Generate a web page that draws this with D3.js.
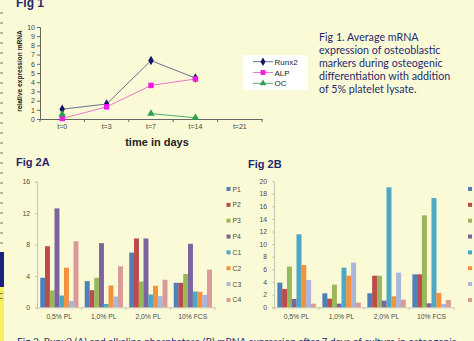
<!DOCTYPE html>
<html><head><meta charset="utf-8">
<script src="https://cdn.jsdelivr.net/npm/d3@7"></script>
<style>body{margin:0;background:#fbfad7}svg{display:block}</style>
</head><body><svg id="c" width="474" height="341"></svg>
<script>
// ---------- data ----------
const timeLabels = ["t=0","t=3","t=7","t=14","t=21"];
const runx2 = [1.07, 1.63, 6.35, 4.45, null];
const alp   = [0.05, 1.32, 3.65, 4.35, null];
const oc    = [0.50, null, 0.58, 0.14, null];
const fig1Ticks = [0,1,2,3,4,5,6,7,8,9,10];
const fig1Series = ["Runx2","ALP","OC"];

const groups = ["0,5% PL","1,0% PL","2,0% PL","10% FCS"];
const seriesNames = ["P1","P2","P3","P4","C1","C2","C3","C4"];
// Fig 2A (Runx2) values, one array per group, in series order P1..C4
const a05  = [3.76, 7.78, 2.14, 12.6, 1.50, 5.04, 0.81, 8.42];
const a10  = [3.34, 2.18, 3.76, 8.17, 0.43, 2.78, 1.37, 5.22];
const a20  = [6.97, 8.77, 3.29, 8.77, 1.63, 2.74, 1.41, 3.51];
const aFCS = [3.12, 3.12, 4.24, 8.09, 2.01, 1.97, 1.58, 4.79];
// Fig 2B (ALP) values
const b05  = [3.90, 2.90, 6.44, 1.32, 11.56, 6.70, 4.33, 0.58];
const b10  = [2.22, 1.37, 3.59, 0.58, 6.28, 5.01, 7.07, 0.74];
const b20  = [2.22, 5.00, 5.00, 1.06, 19.0, 1.74, 5.49, 1.21];
const bFCS = [5.22, 5.22, 14.56, 0.63, 17.3, 2.27, 0.53, 1.16];
const ticksA = [0,4,8,12,16];
const ticksB = [0,2,4,6,8,10,12,14,16,18,20];

const fig1Caption = ["Fig 1. Average mRNA","expression of osteoblastic","markers during osteogenic","differentiation with addition","of 5% platelet lysate."];
const fig2Caption = "Fig 2. Runx2 (A) and alkaline phosphatase (B) mRNA expression after 7 days of culture in osteogenic";

// ---------- styles ----------
const navy = "#1f2a6e";
const barColors = ["#4f80bb","#bd4b4a","#99b85c","#7d63a0","#4ba9c5","#f3913f","#a8b7da","#d99b9a"];
const svg = d3.select("#c");

// left edge scan artefacts
const edge = svg.append("g");
edge.append("rect").attr("x",0).attr("y",252).attr("width",4).attr("height",35).attr("fill","#1a1f80");
edge.append("rect").attr("x",0).attr("y",287).attr("width",4).attr("height",54).attr("fill","#f4f25a");
d3.range(12,250,10).forEach(y=>edge.append("rect").attr("x",0).attr("y",y).attr("width",3).attr("height",2).attr("fill","#9a9a90").attr("opacity",0.7));
[293,298].forEach(y=>edge.append("rect").attr("x",0).attr("y",y).attr("width",3).attr("height",1).attr("fill","#777"));

// ---------- Fig 1 ----------
svg.append("text").attr("x",16).attr("y",7).text("Fig 1")
  .attr("font-family","Liberation Sans, Arial").attr("font-weight","bold").attr("font-size",12).attr("fill",navy);

const x1 = d3.scaleBand().domain(timeLabels).range([40,262]);
const y1 = d3.scaleLinear().domain([0,10]).range([119,27]);
const g1 = svg.append("g");
const yAx1 = g1.append("g").attr("transform","translate(40,0)")
  .call(d3.axisLeft(y1).tickValues(fig1Ticks).tickSize(3).tickPadding(2));
const xAx1 = g1.append("g").attr("transform","translate(0,119)")
  .call(d3.axisBottom(x1).tickSize(0).tickPadding(5));
g1.selectAll(".xb").data(d3.range(timeLabels.length+1)).join("line")
  .attr("x1",i=>40+i*x1.step()).attr("x2",i=>40+i*x1.step()).attr("y1",119).attr("y2",122).attr("stroke","#666");
[yAx1,xAx1].forEach(a=>{
  a.select(".domain").attr("stroke","#666");
  a.selectAll(".tick line").attr("stroke","#666");
  a.selectAll("text").attr("font-family","Liberation Sans, Arial").attr("font-size",7).attr("fill","#444");
});
g1.append("text").attr("transform","translate(22,71) rotate(-90)").attr("text-anchor","middle")
  .text("relative expression mRNA").attr("font-family","Liberation Sans, Arial").attr("font-weight","bold").attr("font-size",6.6).attr("fill","#222");
g1.append("text").attr("x",157).attr("y",146).attr("text-anchor","middle").text("time in days")
  .attr("font-family","Liberation Sans, Arial").attr("font-weight","bold").attr("font-size",11).attr("fill","#222");

const cx = i=>x1(timeLabels[i])+x1.bandwidth()/2;
const line = d3.line().defined(d=>d.v!=null).x(d=>cx(d.i)).y(d=>y1(d.v));
const seriesDefs = [
  {name:"Runx2", vals:runx2, line:"#6a6f98", fill:"#14146a", shape:d3.symbolDiamond, size:26},
  {name:"ALP", vals:alp, line:"#e877cc", fill:"#ee1ee0", shape:d3.symbolSquare, size:30},
  {name:"OC", vals:oc, line:"#4db070", fill:"#2aa050", shape:d3.symbolTriangle, size:24}
];
seriesDefs.forEach(s=>{
  const pts = s.vals.map((v,i)=>({v,i}));
  g1.append("path").attr("d",line(pts)).attr("fill","none").attr("stroke",s.line).attr("stroke-width",1);
  g1.selectAll(null).data(pts.filter(p=>p.v!=null)).join("path")
    .attr("d",d3.symbol().type(s.shape).size(s.size))
    .attr("transform",p=>`translate(${cx(p.i)},${y1(p.v)})`).attr("fill",s.fill);
});
// legend
const lg1 = g1.append("g");
lg1.append("rect").attr("x",243).attr("y",55).attr("width",65).attr("height",35).attr("fill","#ffffff");
seriesDefs.forEach((s,k)=>{
  const yy = 61.7 + k*10.8;
  lg1.append("line").attr("x1",253).attr("x2",273).attr("y1",yy).attr("y2",yy).attr("stroke",s.line).attr("stroke-width",1);
  lg1.append("path").attr("d",d3.symbol().type(s.shape).size(s.size*0.8)).attr("transform",`translate(263,${yy})`).attr("fill",s.fill);
  lg1.append("text").attr("x",274.5).attr("y",yy+3).text(fig1Series[k])
    .attr("font-family","Liberation Sans, Arial").attr("font-size",8).attr("fill","#222");
});
// caption
fig1Caption.forEach((t,i)=>svg.append("text").attr("x",319).attr("y",41+i*13).text(t)
  .attr("font-family","Lato, Open Sans, sans-serif").attr("font-size",10.7).attr("fill",navy));

// ---------- Fig 2 panels ----------
function barPanel(opts){
  const g = svg.append("g");
  g.append("text").attr("x",opts.titleX).attr("y",opts.titleY).text(opts.title)
    .attr("font-family","Liberation Sans, Arial").attr("font-weight","bold").attr("font-size",11).attr("fill",navy);
  const x0 = d3.scaleBand().domain(groups).range(opts.xr);
  const xs = d3.scaleBand().domain(seriesNames).range([0,x0.bandwidth()]).paddingOuter(opts.po);
  const y = d3.scaleLinear().domain([0,opts.max]).range([307.3,opts.top]);
  const ya = g.append("g").attr("transform",`translate(${opts.xr[0]},0)`)
    .call(d3.axisLeft(y).tickValues(opts.ticks).tickSize(2).tickPadding(5));
  const xa = g.append("g").attr("transform","translate(0,307.3)")
    .call(d3.axisBottom(x0).tickSize(0).tickPadding(7));
  g.selectAll(".xb").data(d3.range(groups.length+1)).join("line")
    .attr("x1",i=>opts.xr[0]+i*x0.step()).attr("x2",i=>opts.xr[0]+i*x0.step())
    .attr("y1",307.3).attr("y2",310).attr("stroke","#c8c8b8");
  [ya,xa].forEach(a=>{
    a.select(".domain").attr("stroke","#c8c8b8");
    a.selectAll(".tick line").attr("stroke","#c8c8b8");
    a.selectAll("text").attr("font-family","Liberation Sans, Arial").attr("font-size",6.8).attr("fill","#4a4a4a");
  });
  opts.data.forEach((vals,gi)=>{
    g.selectAll(null).data(vals).join("rect")
      .attr("x",(v,si)=>x0(groups[gi])+xs(seriesNames[si]))
      .attr("width",xs.bandwidth()+0.2)
      .attr("y",v=>y(v)).attr("height",v=>y(0)-y(v))
      .attr("fill",(v,si)=>barColors[si]);
  });
  seriesNames.forEach((n,k)=>{
    const yy = 189 + k*15.85;
    g.append("rect").attr("x",opts.legX).attr("y",yy-2).attr("width",4).attr("height",4).attr("fill",barColors[k]);
    if(opts.legText) g.append("text").attr("x",opts.legX+6).attr("y",yy+2.5).text(n)
      .attr("font-family","Liberation Sans, Arial").attr("font-size",6.8).attr("fill","#4a4a4a");
  });
}
barPanel({title:"Fig 2A",titleX:16,titleY:166,xr:[37,215],po:0.68,max:16,top:181.7,ticks:ticksA,
  data:[a05,a10,a20,aFCS],legX:226.5,legText:true});
barPanel({title:"Fig 2B",titleX:248,titleY:168,xr:[274,454],po:0.7,max:20,top:181,ticks:ticksB,
  data:[b05,b10,b20,bFCS],legX:468,legText:false});

// bottom caption (cut off by the page edge, as in the reference)
svg.append("text").attr("x",17).attr("y",345).text(fig2Caption)
  .attr("font-family","Lato, Open Sans, sans-serif").attr("font-size",10.1).attr("fill",navy);
</script></body></html>
